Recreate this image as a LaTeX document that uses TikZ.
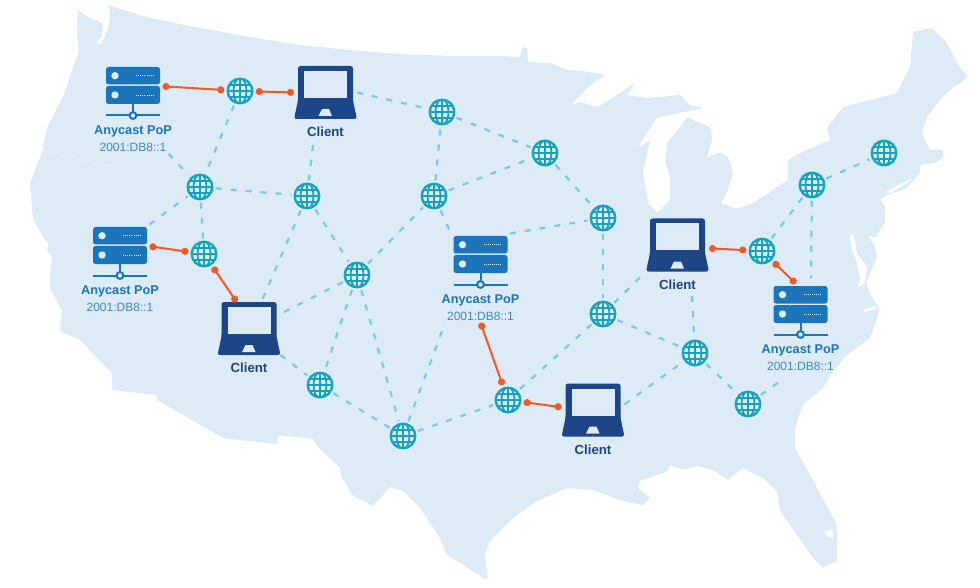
\documentclass[tikz,border=0pt]{standalone}
\usepackage{fontspec,tikz}
\usetikzlibrary{arrows.meta}
\setmainfont{Liberation Sans}

\definecolor{mapblue}{HTML}{DCEBF6}
\definecolor{globeteal}{HTML}{14A3BE}
\definecolor{srvblue}{HTML}{1B75BB}
\definecolor{lapnavy}{HTML}{1D4689}
\definecolor{linkorange}{HTML}{F15A24}
\definecolor{linkdash}{HTML}{79CBDD}

% globe: node and its grid
\newcommand{\globe}[3]{
\node[globebox] (#1) at (#2,#3) {};
\begin{scope}[shift={(#2,#3)}]
\clip (0,0) circle (12.5);
\draw[globeteal, line width=1.8pt] (0,-13)--(0,13);
\draw[globeteal, line width=1.8pt] (0,0) ellipse (6.5 and 13);
\draw[globeteal, line width=1.8pt] (-13,0)--(13,0);
\draw[globeteal, line width=1.8pt] (-13,-6)--(13,-6);
\draw[globeteal, line width=1.8pt] (-13,6)--(13,6);
\end{scope}
}
% server: node, racks, stem and labels
\newcommand{\server}[3]{
\node[srvbox] (srv#1) at (#2,#3) {};
\begin{scope}[shift={(#2,#3)}]
\fill[srvblue, rounded corners=2.5] (-27,-24.5) rectangle (27,-7);
\fill[srvblue, rounded corners=2.5] (-27,-5.5) rectangle (27,12.5);
\fill[mapblue] (-18,-15.8) circle (3.7);
\fill[mapblue] (-18,3.5) circle (3.7);
\draw[mapblue, line width=0.8pt, dash pattern=on 1pt off 1.1pt] (3,-15.8)--(21,-15.8);
\draw[mapblue, line width=0.8pt, dash pattern=on 1pt off 1.1pt] (3,3.5)--(21,3.5);
\draw[srvblue, line width=2pt] (0,12.5)--(0,21);
\draw[srvblue, line width=2pt] (-27,24)--(27,24);
\draw[srvblue, line width=2pt, fill=mapblue] (0,24) circle (3.4);
\end{scope}
\node[poptext] (pop#1) at (#2,#3+39.5) {Anycast PoP};
\node[iptext] (ip#1) at (#2,#3+56) {2001:DB8::1};
}
% laptop: node, body, screen and label
\newcommand{\laptop}[3]{
\node[lapbox] (lap#1) at (#2,#3) {};
\begin{scope}[shift={(#2,#3)}]
\fill[lapnavy, rounded corners=2.5] (-27.5,-26.5)--(27.5,-26.5)--(27.5,8)--(31.5,26.5)--(-31.5,26.5)--(-27.5,8)--cycle;
\fill[mapblue] (-21.5,-21.5) rectangle (21.5,5.5);
\fill[mapblue] (-3.5,16.5)--(3.5,16.5)--(6.5,23.5)--(-7,23.5)--cycle;
\end{scope}
\node[clitext] (cli#1) at (#2,#3+39.5) {Client};
}

\begin{document}
\begin{tikzpicture}[x=1pt, y=-1pt,
  globebox/.style={circle, draw=globeteal, fill=mapblue!70!white, line width=2.4pt, minimum size=24.5pt, inner sep=0pt, outer sep=3.5pt},
  srvbox/.style={rectangle, minimum width=54pt, minimum height=49pt, inner sep=0pt, outer sep=2.5pt},
  lapbox/.style={rectangle, minimum width=63pt, minimum height=53pt, inner sep=0pt, outer sep=0pt},
  poptext/.style={text=srvblue, font=\fontsize{12.7}{14}\selectfont\bfseries, inner sep=0pt},
  iptext/.style={text=srvblue!85!white, font=\fontsize{12}{14}\selectfont, inner sep=0pt, outer sep=2pt},
  clitext/.style={text=lapnavy, font=\fontsize{13.2}{15}\selectfont\bfseries, inner sep=0pt},
  dashlink/.style={draw=linkdash, line width=2.2pt, dash pattern=on 6pt off 9pt},
  hotlink/.style={linkorange, line width=2pt, {Circle[length=7pt]}-{Circle[length=7pt]}}]
\useasboundingbox (0,0) rectangle (980,588);

% map
\fill[mapblue, rounded corners=0.8] (107,5)--(150,18)--(200,28)--(250,37)--(300,45)--(350,50)--(400,54)--(450,56)--(500,56)--(520,57)--(523,47)--(527,48)--(528,62)--(550,63)--(567,70)--(583,71)--(605,75)--(587,88)--(571,105)--(580,102)--(598,107)--(620,93)--(635,83)--(627,95)--(647,98)--(680,95)--(690,105)--(704,108)--(683,112)--(657,118)--(647,133)--(638,148)--(650,140)--(643,173)--(648,203)--(657,213)--(670,200)--(670,177)--(665,160)--(667,143)--(680,127)--(687,117)--(710,127)--(712,140)--(707,158)--(720,152)--(728,157)--(733,173)--(727,193)--(721,203)--(737,209)--(753,203)--(788,180)--(788,160)--(800,153)--(830,140)--(827,128)--(843,107)--(897,93)--(910,67)--(913,32)--(932,28)--(947,43)--(957,63)--(968,77)--(950,90)--(940,100)--(927,117)--(922,133)--(930,150)--(943,150)--(943,158)--(935,163)--(920,165)--(920,172)--(914,180)--(905,189)--(887,195)--(880,200)--(885,207)--(885,222)--(875,238)--(868,235)--(875,247)--(877,257)--(870,273)--(866,283)--(870,293)--(880,310)--(870,338)--(847,355)--(833,371)--(823,388)--(803,405)--(795,428)--(795,448)--(817,488)--(837,525)--(837,561)--(823,568)--(813,558)--(797,535)--(780,511)--(777,491)--(763,478)--(743,468)--(728,480)--(713,470)--(697,466)--(683,470)--(670,465)--(668,471)--(640,481)--(638,488)--(650,498)--(643,505)--(623,501)--(593,490)--(567,488)--(537,501)--(513,518)--(490,541)--(485,555)--(488,578)--(487,580)--(447,555)--(440,538)--(420,508)--(403,491)--(390,487)--(373,506)--(353,496)--(342,478)--(340,468)--(317,446)--(313,439)--(278,435)--(277,444)--(223,438)--(157,400)--(157,395)--(112,390)--(112,373)--(97,358)--(80,340)--(60,331)--(62,311)--(50,288)--(50,273)--(52,257)--(47,250)--(49,243)--(45,240)--(33,220)--(30,183)--(42,153)--(47,128)--(63,97)--(73,67)--(79,52)--(78,42)--(77,33)--(78,10)--(85,15)--(95,20)--(103,23)--(102,37)--(96,42)--(100,45)--(105,37)--(110,20)--(110,10)--cycle;
\fill[white] (886,192)--(900,184)--(914,178)--(905,184)--(890,193)--cycle;
\fill[white] (850,237)--(853,233)--(857,253)--(867,267)--(865,283)--(858,287)--(860,278)--(857,263)--(852,250)--cycle;
\fill[white] (863,310)--(875,306)--(875,309)--(865,312)--cycle;
\fill[white] (825,531)--(833,530)--(833,538)--(827,536)--cycle;
\draw[white, opacity=0.5, line width=0.5pt] (42,150)--(110,167);

% icons
\globe{gA}{240}{91}
\globe{gB}{200}{187}
\globe{gC}{307}{196}
\globe{gD}{204}{254}
\globe{gE}{357}{275}
\globe{gF}{320}{385}
\globe{gG}{403}{436}
\globe{gH}{434}{196}
\globe{gI}{442}{112}
\globe{gJ}{545}{153}
\globe{gK}{603}{218}
\globe{gL}{603}{314}
\globe{gM}{508}{400}
\globe{gN}{695}{353}
\globe{gO}{748}{404}
\globe{gP}{762}{251}
\globe{gQ}{812}{185}
\globe{gR}{884}{153}

\server{A}{133}{91.5}
\server{B}{120}{251.5}
\server{C}{480.5}{260.5}
\server{D}{800.5}{310.5}

\laptop{A}{325.5}{92.5}
\laptop{B}{249}{328.5}
\laptop{C}{677.5}{245}
\laptop{D}{593}{410}

\coordinate (stubA) at (313,145);
\coordinate (stubC) at (692,296);
\coordinate (stubD) at (782,380);
\coordinate (stubE) at (811,278);

% dashed links
\draw[dashlink] (gA)--(gB);
\draw[dashlink] (ipA.south east)--(gB);
\draw[dashlink] (gB)--(gC);
\draw[dashlink] (gB)--(gD);
\draw[dashlink] (srvB.north east)--(gB);
\draw[dashlink] (stubA)--(gC);
\draw[dashlink] (gC)--(lapB.65);
\draw[dashlink] (gC)--(gE);
\draw[dashlink] (gE)--(lapB.25);
\draw[dashlink] (gE)--(gF);
\draw[dashlink] (gE)--(gG);
\draw[dashlink] (gE)--(gH);
\draw[dashlink] (gH)--(gI);
\draw[dashlink] (gH)--(gJ);
\draw[dashlink] (gH)--(srvC.north west);
\draw[dashlink] (lapA.east)--(gI);
\draw[dashlink] (gI)--(gJ);
\draw[dashlink] (gJ)--(gK);
\draw[dashlink] (srvC.north east)--(gK);
\draw[dashlink] (gK)--(gL);
\draw[dashlink, shorten >=8pt] (gL)--(lapC.south west);
\draw[dashlink] (gL)--(gM);
\draw[dashlink] (gL)--(gN);
\draw[dashlink] (stubC)--(gN);
\draw[dashlink] (lapD.10)--(gN);
\draw[dashlink] (gN)--(gO);
\draw[dashlink] (gO)--(stubD);
\draw[dashlink] (gG)--(gM);
\draw[dashlink] (gG)--(gF);
\draw[dashlink] (lapB.south east)--(gF);
\draw[dashlink] (gG)--(ipC.south west);
\draw[dashlink] (gP)--(gQ);
\draw[dashlink] (gQ)--(stubE);
\draw[dashlink] (gQ)--(gR);

% orange links
\draw[hotlink] (srvA.10)--(gA);
\draw[hotlink] (gA)--(lapA.west);
\draw[hotlink] (srvB.10)--(gD);
\draw[hotlink] (gD)--(lapB.115);
\draw[hotlink] (ipC.south)--(gM);
\draw[hotlink] (gM)--(lapD.175);
\draw[hotlink] (lapC.-6)--(gP);
\draw[hotlink] (gP)--(srvD.100);
\end{tikzpicture}
\end{document}
